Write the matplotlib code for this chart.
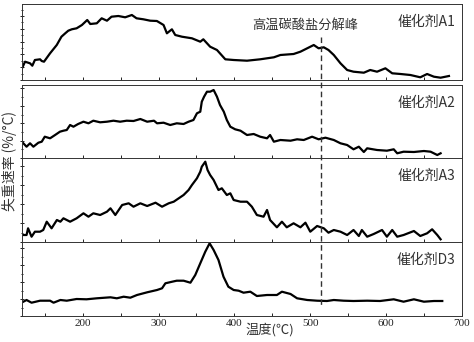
import matplotlib
matplotlib.use("Agg")
import matplotlib.pyplot as plt
from matplotlib.lines import Line2D
from matplotlib.ticker import MultipleLocator
from matplotlib.transforms import blended_transform_factory

plt.rcParams['font.family'] = ['Noto Sans CJK SC', 'DejaVu Sans']

# temperatura (C) e taxa de perda de massa (unidades arbitrarias)
t_a1 = [120, 124, 130.6, 133.6, 137, 143.8, 146, 149, 157, 165.8, 172, 177, 181, 185.6, 192, 199,
        206, 210, 218.6, 225, 232, 238, 247, 256, 264.8, 271, 280, 289, 297.8, 306.6, 311, 317.6,
        322, 330.8, 344, 355, 359, 368, 377, 388, 399, 416.6, 434, 452, 460.6, 478, 487, 504.6,
        511, 517.8, 524, 531, 539.8, 548.6, 557, 570.6, 579, 588, 599, 608, 619, 632, 645, 654,
        663, 671.8, 682.8]
v_a1 = [11.7, 18.3, 16.7, 14.3, 20, 20.7, 19, 18.3, 26.7, 35, 43.3, 46.7, 49.3, 50.7, 51.7, 55,
        60, 56, 56.7, 61.7, 59.3, 63.3, 64, 62.7, 65, 61.7, 60.7, 59.3, 59, 55, 46.7, 50.7,
        45, 43.3, 41.7, 38.3, 40.7, 33.3, 30, 20.7, 20, 19.3, 20.7, 22.7, 25, 26, 28.3, 35,
        31.7, 32.7, 30, 25, 16.7, 10, 8.3, 7.3, 10, 8.3, 11.7, 6.7, 6, 5, 2.7, 6,
        3.3, 2.3, 4]

t_a2 = [121.8, 126, 130.6, 135, 141.6, 146, 150, 157, 163.6, 170, 174.6, 179, 183.4, 187.8, 194,
        201, 207.6, 214, 223, 232, 240.6, 249.4, 258, 267, 276, 285, 294, 298, 306.6, 315.4, 324,
        333, 339.6, 346, 350.6, 355, 357, 360, 363.8, 368, 372.6, 377, 381, 386, 390, 394.6, 401,
        408, 416.6, 425.4, 434, 443, 447, 452, 460.6, 474, 482.6, 491.4, 502.4, 511, 520, 531,
        539.8, 548.6, 557, 564, 570.6, 575, 588, 601, 610, 614.6, 623, 636.6, 649.8, 658.6,
        667.4, 671.8]
v_a2 = [14.7, 11.3, 14.7, 11.3, 15.3, 16.3, 21.3, 19.7, 23, 26.3, 27.3, 28, 33, 31.3, 34,
        36.3, 34.7, 37.3, 35.7, 36.3, 37.3, 36.3, 37.3, 37, 39, 36.3, 37.3, 34.7, 35.3, 33, 34.7,
        34, 36.3, 38, 44.7, 46.3, 56.3, 61.3, 66.3, 66.3, 68, 61.3, 53, 46.3, 38, 31.3, 28.7,
        27.3, 23, 24, 21.3, 19.7, 23, 16.3, 18, 17.3, 18.7, 18, 21.3, 18.7, 20.3, 18,
        14.7, 13, 8.7, 11.3, 6, 9.7, 8, 7.3, 8.7, 4.7, 6.3, 6, 7, 6.3,
        3, 4.7]

t_a3 = [121.8, 126, 128, 132.6, 137, 143.8, 148, 152.6, 159, 166, 170.6, 174.6, 183.4, 192, 201,
        207.6, 214, 223, 232, 236.6, 243, 252, 260.6, 267, 276, 285, 296, 304.6, 313.4, 320,
        326.6, 333, 339.6, 344, 350.6, 355, 357, 361.6, 364.6, 368, 372.6, 379, 383.4, 390,
        394.6, 399, 408, 416.6, 423, 429.6, 438.4, 443, 447, 456, 462.6, 469, 478, 487, 493.6,
        500, 509, 517.8, 524, 531, 539.8, 548.6, 557, 564, 568, 575, 583.6, 594.6, 601, 608,
        614.6, 623, 636.6, 645, 654, 660.6, 667.4, 671.8]
v_a3 = [7, 7, 13.7, 5.3, 10.3, 10.3, 12, 20.3, 13.7, 22, 20.3, 23.7, 20.3, 23.7, 28.7,
        25.3, 28.7, 27, 30.3, 33.7, 27, 37, 38.7, 35.3, 38.7, 36, 39.3, 35.3, 38.7, 40.3,
        43.7, 47, 52, 57, 63.7, 70.3, 75.3, 80.3, 72, 67, 62, 52, 53.7, 47,
        48.7, 42, 40.3, 40.3, 35.3, 27, 25.3, 32, 22, 14.7, 20.3, 14.7, 18.7, 14.7, 19.3,
        10.3, 16, 13.7, 9.3, 12, 10.3, 7, 12, 6, 12, 5.3, 8, 12, 5.3, 12,
        5.3, 7, 11, 6, 8.7, 12.7, 7, 2.7]

t_d3 = [121.8, 126, 132.6, 143.8, 157, 161.6, 170.6, 179, 192, 205, 218.6, 236.6, 245, 254,
        262.8, 271.6, 285, 298, 304.6, 309, 318, 324, 333, 342, 348.4, 355, 361.6, 367.3, 372.6,
        379, 385.6, 392, 399, 405.6, 412, 421, 429.6, 443, 456, 462.6, 474, 482.6, 496, 509,
        522, 531, 544, 557, 575, 592, 610, 623, 636.6, 649.8, 663, 674]
v_d3 = [14.3, 16, 13.3, 15.3, 15.3, 13.3, 16, 15.3, 17, 16.7, 17.7, 18.7, 17.7, 19.3,
        18.3, 21, 23.7, 26, 27.7, 32.7, 34.3, 35.3, 35.3, 33.3, 41, 52.7, 64.3, 72.7, 66,
        56, 39.3, 29.3, 26, 25.3, 23.3, 24.3, 20, 21, 21, 24.3, 22, 17.7, 16, 15.3,
        15, 16, 15.3, 15, 15.3, 15, 16.7, 14.3, 16.7, 14.3, 15, 15]

nomes = ["催化剂A1", "催化剂A2", "催化剂A3", "催化剂D3"]
curvas = [(t_a1, v_a1), (t_a2, v_a2), (t_a3, v_a3), (t_d3, v_d3)]
ticks_x = [200, 300, 400, 500, 600, 700]

# posicao de cada painel em pixels (topo, base) na imagem de 474x342
paineis = [(4, 80), (85, 158), (158, 242), (242, 316)]
passos_y = [6.4, 8.7, 9.5, 8.5]

fig = plt.figure(figsize=(4.74, 3.42), dpi=100)
eixos = []
for i, (topo, base) in enumerate(paineis):
    altura = base - topo
    ax = fig.add_axes([22 / 474, 1 - base / 342, 440 / 474, altura / 342])
    t, v = curvas[i]
    ax.plot(t, v, color="black", linewidth=1.6)
    ax.set_xlim(120, 700)
    ax.set_ylim(0, altura)
    ax.xaxis.set_major_locator(MultipleLocator(100))
    ax.xaxis.set_minor_locator(MultipleLocator(50))
    ax.yaxis.set_major_locator(MultipleLocator(passos_y[i] * 2))
    ax.yaxis.set_minor_locator(MultipleLocator(passos_y[i]))
    ax.tick_params(axis="x", which="both", direction="in", top=False, length=2.5, width=0.6)
    ax.tick_params(axis="y", which="major", direction="inout", length=3.5, width=0.6)
    ax.tick_params(axis="y", which="minor", direction="inout", length=2, width=0.6)
    ax.set_yticklabels([])
    for s in ax.spines.values():
        s.set_linewidth(0.7)
        s.set_color("#333333")
    ax.text(0.984, 1 - 18 / altura, nomes[i], transform=ax.transAxes, ha="right",
            va="center", fontsize=10, color="#333333")
    if i < 3:
        ax.set_xticklabels([])
    eixos.append(ax)

ax = eixos[-1]
ax.set_xticks(ticks_x)
ax.set_xticklabels([str(x) for x in ticks_x])
for lab in ax.get_xticklabels():
    lab.set_fontfamily("Liberation Serif")
    lab.set_fontsize(8)
    lab.set_color("#222222")
ax.tick_params(axis="x", pad=2)

# linha tracejada do pico de decomposicao de carbonatos
trans = blended_transform_factory(ax.transData, fig.transFigure)
fig.add_artist(Line2D([514, 514], [1 - 37 / 342, 1 - 307 / 342], transform=trans,
                      color="#333333", linestyle=(0, (4, 2.5)), linewidth=1))

fig.text(305 / 474, 1 - 25 / 342, "高温碳酸盐分解峰", ha="center", va="center",
         fontsize=9.5, color="#333333")

fig.text(270 / 474, 1 - 330 / 342, "温度(℃)", ha="center", va="center", fontsize=9.5,
         color="#333333")
fig.text(10 / 474, 1 - 161 / 342, "失重速率 (%/°C)", ha="center", va="center",
         rotation=90, fontsize=10, color="#333333")

plt.savefig("out.png", dpi=100)
